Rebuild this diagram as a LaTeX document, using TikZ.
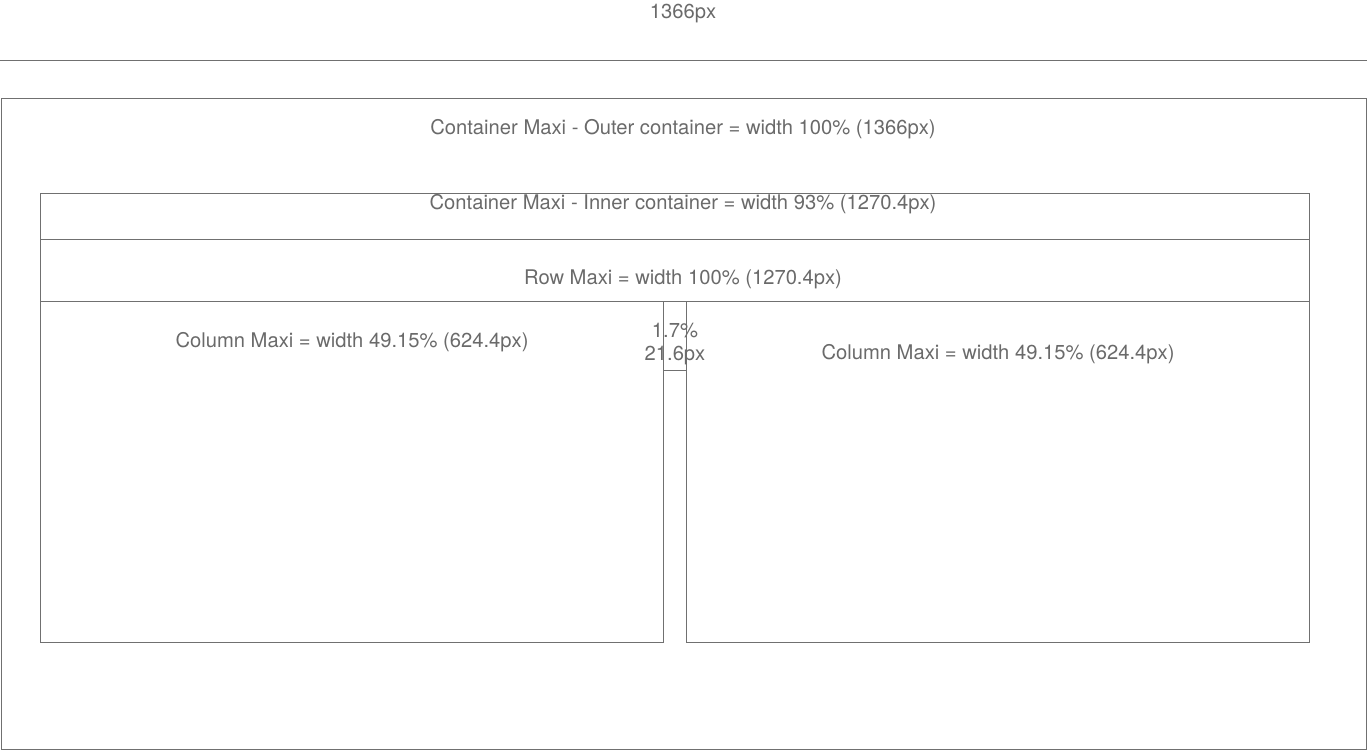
\documentclass[tikz,border=0pt]{standalone}
\usepackage{fontspec}
\setmainfont{TeX Gyre Heros}
\usepackage{xcolor}
\usetikzlibrary{positioning}
\definecolor{linegray}{HTML}{707070}
\definecolor{textgray}{HTML}{6A6A6A}

\begin{document}
\begin{tikzpicture}[
        x=1pt, y=-1pt,
        box/.style={draw=linegray, line width=1pt},
        label/.style={text=textgray, font=\fontsize{20.2}{24}\selectfont, inner sep=0pt}
    ]

    \useasboundingbox (0,0) rectangle (1367,750) ;

    % page width
    \node[label] (page) at (683,14) {1366px} ;
    \draw[box] (0,60) coordinate (rule0) -- (1367,60) coordinate (rule1) ;

    % outer container
    \draw[box] (1.5,98.5) coordinate (outer) rectangle (1366,749) ;
    \node[label] (outerlbl) at (683,129) {Container Maxi - Outer container = width 100\% (1366px)} ;

    % inner container, row and columns
    \draw[box] (40,193.5) coordinate (inner) rectangle (1309.5,239.5) coordinate (rowtop) ;
    \node[label] (innerlbl) at (683,204) {Container Maxi - Inner container = width 93\% (1270.4px)} ;
    \draw[box] (40,239.5) rectangle (1309.5,301.5) ;
    \node[label] (rowlbl) at (683,279) {Row Maxi = width 100\% (1270.4px)} ;

    \draw[box] (40,301.5) coordinate (colA) rectangle (663.5,642.5) ;
    \draw[box] (686.5,301.5) coordinate (colB) rectangle (1309.5,642.5) ;
    \draw[box] (663.5,370.5) coordinate (gap) -- (686.5,370.5) ;

    \node[label] (colAlbl) at (352,342) {Column Maxi = width 49.15\% (624.4px)} ;
    \node[label] (colBlbl) at (998,354) {Column Maxi = width 49.15\% (624.4px)} ;
    \node[label] (gappct) at (675,331) {1.7\%} ;
    \node[label, below=7.5pt of gappct] (gappx) {21.6px} ;

\end{tikzpicture}
\end{document}
